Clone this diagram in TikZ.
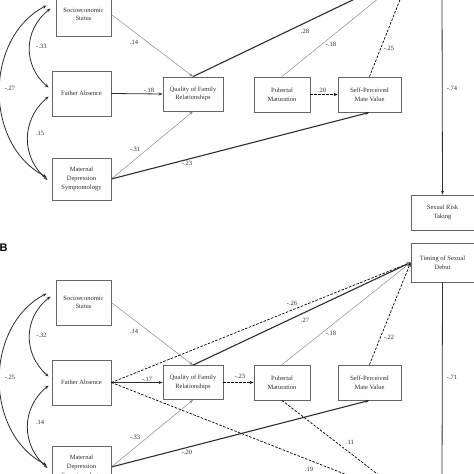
\documentclass[tikz,border=0pt]{standalone}
\usepackage{fontspec}
\setmainfont{Liberation Serif}
\setsansfont{Liberation Sans}
\usepackage{tikz}
\usetikzlibrary{arrows.meta}
\tikzset{>={Stealth[length=4pt,width=3pt]}}
\usepackage{xcolor}
\definecolor{boxgray}{HTML}{666666}
\definecolor{pathgray}{HTML}{8C8C8C}
\definecolor{pathdark}{HTML}{2E2E2E}

\begin{document}
\begin{tikzpicture}[x=1pt, y=1pt,
		box/.style={draw=boxgray, line width=0.8pt, align=center, inner sep=1pt, text=pathdark, font=\fontsize{6.5}{8.7}\selectfont},
		strong/.style={pathdark, line width=1.1pt, ->},
		medium/.style={pathdark, line width=0.8pt, ->},
		weak/.style={pathgray, line width=0.5pt, ->},
		dashpath/.style={black, line width=0.7pt, dash pattern=on 2.5pt off 1.5pt, ->},
		covar/.style={pathdark, line width=0.8pt, <->},
		coef/.style={inner sep=0pt, text=pathdark, font=\fontsize{6.5}{7}\selectfont}]
				\useasboundingbox (0,0) rectangle (474,-474);
				\fill[white] (0,0) rectangle (474,-474);
				\clip (0,0) rectangle (474,-474);
				% panel A
				\node[box, minimum width=55pt, minimum height=43pt] (sesA) at (83.5,-14.5) {Socioeconomic\\Status};
				\node[box, minimum width=59pt, minimum height=45pt] (faA) at (81.5,-93.5) {Father Absence};
				\node[box, minimum width=59pt, minimum height=42pt] (mdA) at (81.5,-179) {Maternal\\Depression\\Symptomology};
				\node[box, minimum width=60pt, minimum height=34pt] (qfA) at (193,-94) {Quality of Family\\Relationships};
				\node[box, minimum width=56pt, minimum height=35pt] (pmA) at (282,-94.5) {Pubertal\\Maturation};
				\node[box, minimum width=63pt, minimum height=35pt] (spA) at (369.5,-94.5) {Self-Perceived\\Mate Value};
				\node[box, minimum width=63pt, minimum height=35pt] (srA) at (442.5,-212.5) {Sexual Risk\\Taking};
				\coordinate (tdAw) at (411,28);
				\coordinate (tdAs) at (442,9);
				\draw [weak] (sesA.east) -- (qfA.north);
				\draw [medium] (faA.east) -- (qfA.west);
				\draw [weak] (mdA.east) -- (qfA.south);
				\draw [strong] (mdA.east) -- (spA.south);
				\draw [strong] (qfA.north) -- (tdAw);
				\draw [weak] (pmA.north) -- (tdAw);
				\draw [dashpath] (spA.north) -- (tdAw);
				\draw [dashpath] (pmA.east) -- (spA.west);
				\draw [medium] (tdAs) -- (srA.north);
				\draw [covar] ([shift={(-5pt,6pt)}]sesA.west) .. controls (23,-30) and (23,-66) .. ([shift={(-3pt,6pt)}]faA.west);
				\draw [covar] ([shift={(-3pt,-3pt)}]faA.west) .. controls (21,-120) and (21,-157) .. ([shift={(-4pt,-1pt)}]mdA.west);
				\draw [covar] ([shift={(-9pt,9pt)}]sesA.west) .. controls (-16,-38) and (-16,-145) .. ([shift={(-5pt,2pt)}]mdA.west);
				\node[coef] (cA1) at (134,-42) {.14};
				\node[coef] (cA2) at (149,-90) {-.18};
				\node[coef] (cA3) at (135,-149) {-.31};
				\node[coef] (cA4) at (187,-163) {-.23};
				\node[coef] (cA5) at (305,-31) {.28};
				\node[coef] (cA6) at (331,-44) {-.18};
				\node[coef] (cA7) at (389,-48) {-.25};
				\node[coef] (cA8) at (322,-90) {.20};
				\node[coef] (cA9) at (452,-88) {-.74};
				\node[coef] (cA10) at (41.5,-46) {-.33};
				\node[coef] (cA11) at (40,-133) {.15};
				\node[coef] (cA12) at (10,-88) {-.27};
				% panel B
				\node[inner sep=0pt, anchor=west, font=\sffamily\bfseries\fontsize{11}{11}\selectfont] (labB) at (-0.5,-247.5) {B};
				\node[box, minimum width=55pt, minimum height=45pt] (sesB) at (83.5,-302.5) {Socioeconomic\\Status};
				\node[box, minimum width=59pt, minimum height=45pt] (faB) at (81.5,-382.5) {Father Absence};
				\node[box, minimum width=59pt, minimum height=42pt] (mdB) at (81.5,-467) {Maternal\\Depression\\Symptomology};
				\node[box, minimum width=60pt, minimum height=34pt] (qfB) at (193,-382.5) {Quality of Family\\Relationships};
				\node[box, minimum width=56pt, minimum height=35pt] (pmB) at (282,-382.5) {Pubertal\\Maturation};
				\node[box, minimum width=63pt, minimum height=35pt] (spB) at (369.5,-382.5) {Self-Perceived\\Mate Value};
				\node[box, minimum width=63pt, minimum height=39pt] (tdB) at (442.5,-262.5) {Timing of Sexual\\Debut};
				\coordinate (srBw) at (411,-500);
				\coordinate (srBn) at (442,-483);
				\draw [weak] (sesB.east) -- (qfB.north);
				\draw [medium] (faB.east) -- (qfB.west);
				\draw [dashpath] (faB.east) -- (tdB.west);
				\draw [dashpath] (faB.east) -- (srBw);
				\draw [weak] (mdB.east) -- (qfB.south);
				\draw [strong] (mdB.east) -- (spB.south);
				\draw [dashpath] (qfB.east) -- (pmB.west);
				\draw [strong] (qfB.north) -- (tdB.west);
				\draw [weak] (pmB.north) -- (tdB.west);
				\draw [dashpath] (spB.north) -- (tdB.west);
				\draw [dashpath] (pmB.south) -- (srBw);
				\draw [medium] (tdB.south) -- (srBn);
				\draw [covar] ([shift={(-5pt,6pt)}]sesB.west) .. controls (23,-318) and (23,-354) .. ([shift={(-3pt,6pt)}]faB.west);
				\draw [covar] ([shift={(-3pt,-3pt)}]faB.west) .. controls (21,-408) and (21,-445) .. ([shift={(-4pt,-1pt)}]mdB.west);
				\draw [covar] ([shift={(-9pt,9pt)}]sesB.west) .. controls (-16,-326) and (-16,-433) .. ([shift={(-5pt,2pt)}]mdB.west);
				\node[coef] (cB1) at (134,-331) {.14};
				\node[coef] (cB2) at (147,-379) {-.17};
				\node[coef] (cB3) at (240,-376) {-.23};
				\node[coef] (cB4) at (135,-437) {-.33};
				\node[coef] (cB5) at (187,-452) {-.20};
				\node[coef] (cB6) at (292,-303) {-.26};
				\node[coef] (cB7) at (305,-320) {.27};
				\node[coef] (cB8) at (331,-333) {-.18};
				\node[coef] (cB9) at (389,-337) {-.22};
				\node[coef] (cB10) at (452,-377) {-.71};
				\node[coef] (cB11) at (350,-442) {.11};
				\node[coef] (cB12) at (309,-469) {.19};
				\node[coef] (cB13) at (41.5,-335) {-.32};
				\node[coef] (cB14) at (40,-422) {.14};
				\node[coef] (cB15) at (10,-377) {-.25};
			\end{tikzpicture}
\end{document}
